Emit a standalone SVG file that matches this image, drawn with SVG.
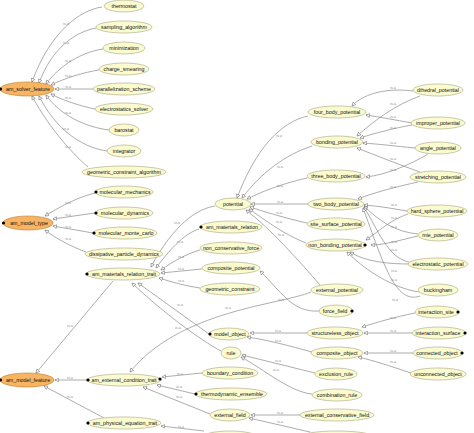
<svg xmlns="http://www.w3.org/2000/svg" width="474" height="433" viewBox="0 0 474 433">
<style>
.node ellipse{fill:#fbfbd0;stroke:#aaa37a;stroke-width:0.6}
.root ellipse{fill:#f7b462;stroke:#c07a28;stroke-width:0.6}
.node text{font-family:"Liberation Sans",Arial,sans-serif;font-size:5.3px;fill:#111;text-anchor:middle}
.dot{fill:#000}
#edges path{fill:none;stroke:#808080;stroke-width:0.65;marker-end:url(#isa)}
#edges text{font-family:"Liberation Sans",Arial,sans-serif;font-size:3.6px;fill:#8c8c8c;text-anchor:middle}
</style>
<defs>
<marker id="isa" viewBox="0 0 10 10" refX="9" refY="5" markerWidth="4.5" markerHeight="4.5" markerUnits="userSpaceOnUse" orient="auto">
<path d="M1,1 L9,5 L1,9 z" fill="#fff" stroke="#666" stroke-width="1.2"/>
</marker>
</defs>
<rect width="474" height="433" fill="#fff"/>
<g id="edges">
<path d="M102,7 C80,10 50,32 32,82"/><text x="66" y="25">is-a</text>
<path d="M96,28 C75,32 52,48 39,83"/><text x="66" y="44">is-a</text>
<path d="M103,49 C82,52 60,65 46,84"/><text x="68" y="62">is-a</text>
<path d="M99,70 C85,72 65,78 51,85"/><text x="68" y="77">is-a</text>
<path d="M93,89 L55,89"/><text x="68" y="88">is-a</text>
<path d="M95,109 C80,106 62,100 51,94"/><text x="68" y="99">is-a</text>
<path d="M109,130 C85,127 60,115 46,95"/><text x="68" y="114">is-a</text>
<path d="M107,151 C80,147 55,128 39,96"/><text x="66" y="130">is-a</text>
<path d="M88,167 C76,157 50,130 32,96"/><text x="68" y="148">is-a</text>
<path d="M95,193 C75,198 58,208 45,216"/><text x="68" y="204">is-a</text>
<path d="M95,213 L53,219"/><text x="68" y="216">is-a</text>
<path d="M93,233 L53,226"/><text x="68" y="228">is-a</text>
<path d="M86,252 C70,246 55,238 45,230"/><text x="68" y="240">is-a</text>
<path d="M113,281 L36,373"/><text x="70" y="327">is-a</text>
<path d="M87,380 L55,380"/><text x="70" y="379">is-a</text>
<path d="M104,418 L44,386"/><text x="70" y="398">is-a</text>
<path d="M215,206 C190,210 168,235 151,267"/><text x="177" y="224">is-a</text>
<path d="M199,229 C183,234 168,252 156,268"/><text x="180" y="243">is-a</text>
<path d="M200,250 C186,254 172,262 161,270"/><text x="181" y="258">is-a</text>
<path d="M202,269 L161,273"/><text x="181" y="270">is-a</text>
<path d="M200,288 C185,286 172,282 159,278"/><text x="181" y="282">is-a</text>
<path d="M209,334 L138,283"/><text x="180" y="306">is-a</text>
<path d="M221,351 C200,340 160,310 132,283"/><text x="178" y="329">is-a</text>
<path d="M202,373 L162,377"/><text x="180" y="375">is-a</text>
<path d="M195,394 L157,385"/><text x="179" y="388">is-a</text>
<path d="M210,414 L143,387"/><text x="179" y="398">is-a</text>
<path d="M311,292 C280,305 180,310 130,372"/><text x="228" y="309">is-a</text>
<path d="M204,431 L161,426"/><text x="181" y="428">is-a</text>
<path d="M308,116 C280,122 255,150 237,198"/><text x="279" y="137">is-a</text>
<path d="M312,146 C285,155 262,172 242,198"/><text x="280" y="168">is-a</text>
<path d="M307,178 C285,183 265,190 247,199"/><text x="280" y="187">is-a</text>
<path d="M308,204 L251,204"/><text x="280" y="203">is-a</text>
<path d="M307,223 C285,218 265,212 250,207"/><text x="279" y="214">is-a</text>
<path d="M306,243 C285,235 265,220 249,209"/><text x="279" y="223">is-a</text>
<path d="M320,285 C300,262 272,230 246,210"/><text x="281" y="236">is-a</text>
<path d="M319,311 C292,313 280,290 260,271"/><text x="281" y="301">is-a</text>
<path d="M413,91 C390,88 365,92 352,106"/><text x="393" y="89">is-a</text>
<path d="M412,123 C395,120 380,117 366,115"/><text x="393" y="118">is-a</text>
<path d="M420,96 C395,105 375,120 357,136"/><text x="393" y="105">is-a</text>
<path d="M412,125 C395,128 375,133 360,138"/><text x="393" y="129">is-a</text>
<path d="M415,148 C395,146 378,144 363,143"/><text x="393" y="144">is-a</text>
<path d="M420,172 C400,165 375,155 357,148"/><text x="393" y="160">is-a</text>
<path d="M428,154 C410,165 385,175 366,177"/><text x="393" y="171">is-a</text>
<path d="M418,182 C400,186 375,192 358,199"/><text x="393" y="188">is-a</text>
<path d="M407,211 C390,208 377,206 364,205"/><text x="394" y="206">is-a</text>
<path d="M408,214 C390,220 378,232 366,240"/><text x="394" y="219">is-a</text>
<path d="M418,234 C395,232 378,220 364,206"/><text x="394" y="228">is-a</text>
<path d="M418,236 C400,240 385,245 371,245"/><text x="394" y="243">is-a</text>
<path d="M409,262 C388,258 378,230 364,207"/><text x="394" y="251">is-a</text>
<path d="M410,264 C390,264 365,262 350,252"/><text x="394" y="272">is-a</text>
<path d="M420,292 C400,290 370,275 347,252"/><text x="394" y="281">is-a</text>
<path d="M420,296 C395,305 383,262 363,208"/><text x="395" y="301">is-a</text>
<path d="M415,313 C395,317 378,322 362,327"/><text x="393" y="319">is-a</text>
<path d="M412,333 L364,333"/><text x="393" y="332">is-a</text>
<path d="M413,353 L364,353"/><text x="393" y="352">is-a</text>
<path d="M411,373 C390,366 372,360 358,357"/><text x="393" y="363">is-a</text>
<path d="M307,333 L250,333"/><text x="278" y="332">is-a</text>
<path d="M312,352 C290,346 268,340 247,337"/><text x="278" y="342">is-a</text>
<path d="M315,373 L242,355"/><text x="278" y="362">is-a</text>
<path d="M312,394 C290,392 265,370 241,357"/><text x="276" y="371">is-a</text>
<path d="M300,415 L251,415"/><text x="280" y="414">is-a</text>
<path d="M310,432 L249,418"/><text x="280" y="423">is-a</text>
</g>
<g id="n-am_solver_feature" class="node root"><ellipse cx="27" cy="89" rx="27" ry="7"/><text x="28" y="91">am_solver_feature</text><circle class="dot" cx="0.5" cy="89" r="1.6"/></g>
<g id="n-am_model_type" class="node root"><ellipse cx="28" cy="223" rx="25" ry="7"/><text x="29" y="225">am_model_type</text><circle class="dot" cx="3.5" cy="223" r="1.6"/></g>
<g id="n-am_model_feature" class="node root"><ellipse cx="27" cy="380" rx="27" ry="7"/><text x="28" y="382">am_model_feature</text><circle class="dot" cx="0.5" cy="380" r="1.6"/></g>
<g id="n-thermostat" class="node"><ellipse cx="124" cy="6" rx="20" ry="6"/><text x="124" y="7.8">thermostat</text></g>
<g id="n-sampling_algorithm" class="node"><ellipse cx="124" cy="27" rx="28" ry="6"/><text x="124" y="28.8">sampling_algorithm</text></g>
<g id="n-minimization" class="node"><ellipse cx="124" cy="48" rx="21" ry="6"/><text x="124" y="49.8">minimization</text></g>
<g id="n-charge_smearing" class="node"><ellipse cx="124" cy="69" rx="25" ry="6"/><text x="124" y="70.8">charge_smearing</text></g>
<g id="n-parallelization_scheme" class="node"><ellipse cx="124" cy="89" rx="31" ry="6"/><text x="124" y="90.8">parallelization_scheme</text></g>
<g id="n-electrostatics_solver" class="node"><ellipse cx="124" cy="109" rx="29" ry="6"/><text x="124" y="110.8">electrostatics_solver</text></g>
<g id="n-barostat" class="node"><ellipse cx="124" cy="130" rx="15" ry="6"/><text x="124" y="131.8">barostat</text></g>
<g id="n-integrator" class="node"><ellipse cx="124" cy="151" rx="17" ry="6"/><text x="124" y="152.8">integrator</text></g>
<g id="n-geometric_constraint_algorithm" class="node"><ellipse cx="124" cy="172" rx="42" ry="6"/><text x="124" y="173.8">geometric_constraint_algorithm</text></g>
<g id="n-molecular_mechanics" class="node"><ellipse cx="124" cy="192" rx="29" ry="6"/><text x="125" y="193.8">molecular_mechanics</text><circle class="dot" cx="96" cy="192" r="1.6"/></g>
<g id="n-molecular_dynamics" class="node"><ellipse cx="124" cy="213" rx="29" ry="6"/><text x="125" y="214.8">molecular_dynamics</text><circle class="dot" cx="96" cy="213" r="1.6"/></g>
<g id="n-molecular_monte_carlo" class="node"><ellipse cx="125" cy="233" rx="32" ry="6"/><text x="126" y="234.8">molecular_monte_carlo</text><circle class="dot" cx="94" cy="233" r="1.6"/></g>
<g id="n-dissipative_particle_dynamics" class="node"><ellipse cx="124" cy="254" rx="39" ry="6"/><text x="124" y="255.8">dissipative_particle_dynamics</text></g>
<g id="n-am_materials_relation_trait" class="node"><ellipse cx="123" cy="274" rx="37" ry="6"/><text x="124" y="275.8">am_materials_relation_trait</text><circle class="dot" cx="87" cy="274" r="1.6"/></g>
<g id="n-am_external_condition_trait" class="node"><ellipse cx="124" cy="380" rx="37" ry="6"/><text x="124" y="381.8">am_external_condition_trait</text><circle class="dot" cx="88" cy="380" r="1.6"/><circle class="dot" cx="160" cy="379" r="1.6"/></g>
<g id="n-am_physical_equation_trait" class="node"><ellipse cx="124" cy="423" rx="37" ry="6"/><text x="125" y="424.8">am_physical_equation_trait</text><circle class="dot" cx="88" cy="423" r="1.6"/></g>
<g id="n-potential" class="node"><ellipse cx="233" cy="204" rx="18" ry="6"/><text x="233" y="205.8">potential</text></g>
<g id="n-am_materials_relation" class="node"><ellipse cx="231" cy="227" rx="31" ry="6"/><text x="232" y="228.8">am_materials_relation</text><circle class="dot" cx="201" cy="227" r="1.6"/></g>
<g id="n-non_conservative_force" class="node"><ellipse cx="231" cy="248" rx="31" ry="6"/><text x="231" y="249.8">non_conservative_force</text></g>
<g id="n-composite_potential" class="node"><ellipse cx="231" cy="268" rx="29" ry="6"/><text x="231" y="269.8">composite_potential</text></g>
<g id="n-geometric_constraint" class="node"><ellipse cx="230" cy="289" rx="30" ry="6"/><text x="230" y="290.8">geometric_constraint</text></g>
<g id="n-model_object" class="node"><ellipse cx="229" cy="334" rx="20" ry="6"/><text x="230" y="335.8">model_object</text><circle class="dot" cx="210" cy="334" r="1.6"/></g>
<g id="n-rule" class="node"><ellipse cx="231" cy="353" rx="10" ry="6"/><text x="231" y="354.8">rule</text></g>
<g id="n-boundary_condition" class="node"><ellipse cx="230" cy="373" rx="28" ry="6"/><text x="230" y="374.8">boundary_condition</text></g>
<g id="n-thermodynamic_ensemble" class="node"><ellipse cx="231" cy="394" rx="36" ry="6"/><text x="232" y="395.8">thermodynamic_ensemble</text><circle class="dot" cx="196" cy="394" r="1.6"/></g>
<g id="n-external_field" class="node"><ellipse cx="230" cy="415" rx="20" ry="6"/><text x="230" y="416.8">external_field</text></g>
<g id="n-physical_equation_child" class="node"><ellipse cx="230" cy="437" rx="27" ry="6"/></g>
<g id="n-four_body_potential" class="node"><ellipse cx="337" cy="112" rx="29" ry="6"/><text x="337" y="113.8">four_body_potential</text></g>
<g id="n-bonding_potential" class="node"><ellipse cx="337" cy="142" rx="26" ry="6"/><text x="337" y="143.8">bonding_potential</text></g>
<g id="n-three_body_potential" class="node"><ellipse cx="336" cy="176" rx="29" ry="6"/><text x="336" y="177.8">three_body_potential</text></g>
<g id="n-two_body_potential" class="node"><ellipse cx="336" cy="204" rx="28" ry="6"/><text x="336" y="205.8">two_body_potential</text></g>
<g id="n-site_surface_potential" class="node"><ellipse cx="336" cy="224" rx="29" ry="6"/><text x="336" y="225.8">site_surface_potential</text></g>
<g id="n-non_bonding_potential" class="node"><ellipse cx="336" cy="245" rx="30" ry="6"/><text x="335" y="246.8">non_bonding_potential</text><circle class="dot" cx="365" cy="245" r="1.6"/></g>
<g id="n-external_potential" class="node"><ellipse cx="337" cy="290" rx="26" ry="6"/><text x="337" y="291.8">external_potential</text></g>
<g id="n-force_field" class="node"><ellipse cx="336" cy="311" rx="17" ry="6"/><text x="335" y="312.8">force_field</text><circle class="dot" cx="352" cy="311" r="1.6"/></g>
<g id="n-structureless_object" class="node"><ellipse cx="335" cy="333" rx="28" ry="6"/><text x="335" y="334.8">structureless_object</text></g>
<g id="n-composite_object" class="node"><ellipse cx="337" cy="353" rx="26" ry="6"/><text x="337" y="354.8">composite_object</text></g>
<g id="n-exclusion_rule" class="node"><ellipse cx="336" cy="374" rx="21" ry="6"/><text x="336" y="375.8">exclusion_rule</text></g>
<g id="n-combination_rule" class="node"><ellipse cx="337" cy="395" rx="25" ry="6"/><text x="337" y="396.8">combination_rule</text></g>
<g id="n-external_conservative_field" class="node"><ellipse cx="337" cy="415" rx="37" ry="6"/><text x="337" y="416.8">external_conservative_field</text></g>
<g id="n-external_field_child" class="node"><ellipse cx="337" cy="437" rx="37" ry="6"/></g>
<g id="n-dihedral_potential" class="node"><ellipse cx="438" cy="90" rx="25" ry="6"/><text x="438" y="91.8">dihedral_potential</text></g>
<g id="n-improper_potential" class="node"><ellipse cx="438" cy="123" rx="27" ry="6"/><text x="438" y="124.8">improper_potential</text></g>
<g id="n-angle_potential" class="node"><ellipse cx="438" cy="148" rx="23" ry="6"/><text x="438" y="149.8">angle_potential</text></g>
<g id="n-stretching_potential" class="node"><ellipse cx="438" cy="177" rx="28" ry="6"/><text x="438" y="178.8">stretching_potential</text></g>
<g id="n-hard_sphere_potential" class="node"><ellipse cx="437" cy="211" rx="30" ry="6"/><text x="437" y="212.8">hard_sphere_potential</text></g>
<g id="n-mie_potential" class="node"><ellipse cx="438" cy="235" rx="20" ry="6"/><text x="438" y="236.8">mie_potential</text></g>
<g id="n-electrostatic_potential" class="node"><ellipse cx="438" cy="264" rx="30" ry="6"/><text x="438" y="265.8">electrostatic_potential</text></g>
<g id="n-buckingham" class="node"><ellipse cx="438" cy="290" rx="20" ry="6"/><text x="438" y="291.8">buckingham</text></g>
<g id="n-interaction_site" class="node"><ellipse cx="437" cy="312" rx="22" ry="6"/><text x="436" y="313.8">interaction_site</text><circle class="dot" cx="458" cy="312" r="1.6"/></g>
<g id="n-interaction_surface" class="node"><ellipse cx="439" cy="333" rx="27" ry="6"/><text x="438" y="334.8">interaction_surface</text><circle class="dot" cx="465" cy="333" r="1.6"/></g>
<g id="n-connected_object" class="node"><ellipse cx="438" cy="353" rx="25" ry="6"/><text x="437" y="354.8">connected_object</text><circle class="dot" cx="462" cy="353" r="1.6"/></g>
<g id="n-unconnected_object" class="node"><ellipse cx="438" cy="374" rx="28" ry="6"/><text x="438" y="375.8">unconnected_object</text></g>
</svg>
